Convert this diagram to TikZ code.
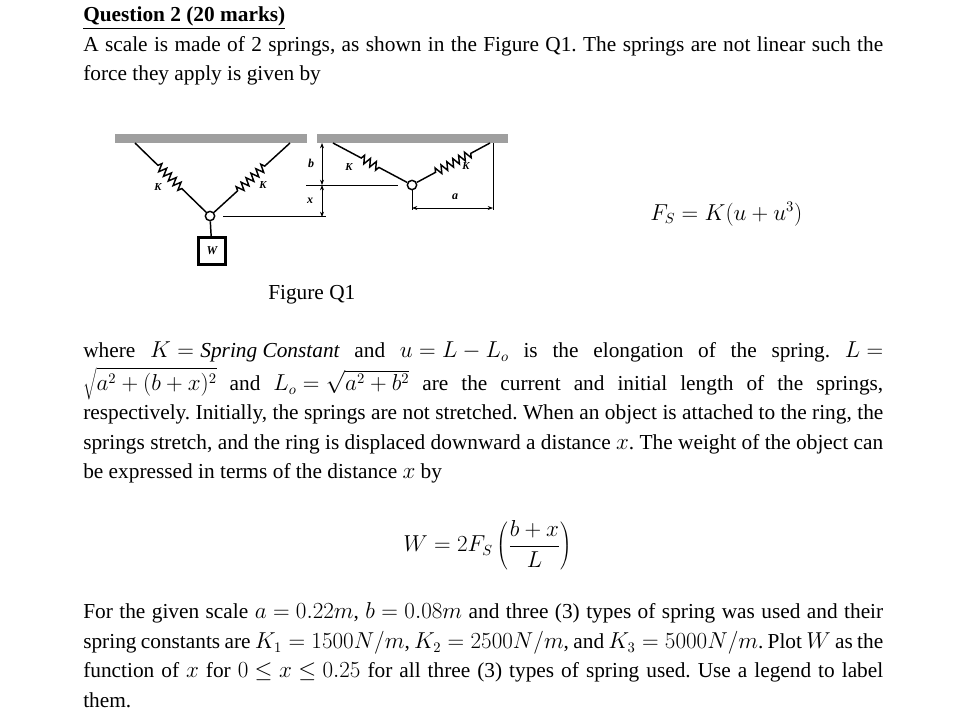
\documentclass[tikz,border=0pt]{standalone}
\usepackage{fontspec}
\setmainfont{Liberation Serif}
\usetikzlibrary{decorations.pathmorphing,arrows.meta}
\tikzset{
 txt/.style={anchor=west,inner sep=0pt,font=\fontsize{16}{18}\selectfont},
 bar/.style={fill=gray!75,draw=none},
 spring/.style={line width=1.1pt,decorate,decoration={zigzag,segment length=5pt,amplitude=3pt,pre length=#1,post length=#1}},
 klab/.style={font=\bfseries\itshape\fontsize{8}{9}\selectfont,inner sep=0pt},
 dim/.style={line width=0.5pt},
 dimarr/.style={line width=0.5pt,{Stealth[length=4pt]}-{Stealth[length=4pt]}}
}
\newcommand{\jl}[1]{\makebox[600pt][s]{#1}}
\frenchspacing
\thickmuskip=5mu \medmuskip=4mu \thinmuskip=3mu
\begin{document}
\begin{tikzpicture}[x=0.75pt,y=-0.75pt]
\useasboundingbox (0,0) rectangle (975,719);
% text
\node[txt,font=\bfseries\fontsize{16}{18}\selectfont] (t0) at (83,18) {\underline{Question 2 (20 marks)}};
\node[txt] (t1) at (83,46) {\jl{A scale is made of 2 springs, as shown in the Figure Q1. The springs are not linear such the}};
\node[txt] (t2) at (83,75) {force they apply is given by};
\node[txt] (f1) at (650,214) {$F_S = K(u+u^3)$};
\node[txt] (cap) at (268,295) {Figure Q1};
\node[txt] (t3) at (83,352) {\jl{where $K = \mathit{Spring\ Constant}$ and $u = L - L_o$ is the elongation of the spring. $L =$}};
\node[txt] (t4) at (83,384) {\jl{$\sqrt{a^2+(b+x)^2}$ and $L_o = \sqrt{a^2+b^2}$ are the current and initial length of the springs,}};
\node[txt] (t5) at (83,414) {\jl{respectively. Initially, the springs are not stretched. When an object is attached to the ring, the}};
\node[txt] (t6) at (83,444) {\jl{springs stretch, and the ring is displaced downward a distance $x$. The weight of the object can}};
\node[txt] (t7) at (83,473) {be expressed in terms of the distance $x$ by};
\node[txt] (f2) at (403,545) {$\displaystyle W = 2F_S\left(\frac{b+x}{L}\right)$};
\node[txt] (t8) at (83,613) {\jl{For the given scale $a = 0.22m$, $b = 0.08m$ and three (3) types of spring was used and their}};
\node[txt] (t9) at (83,643) {\jl{spring constants are $K_1 = 1500N/m$, $K_2 = 2500N/m$, and $K_3 = 5000N/m$. Plot $W$ as the}};
\node[txt] (t10) at (83,672) {\jl{function of $x$ for $0 \le x \le 0.25$ for all three (3) types of spring used. Use a legend to label}};
\node[txt] (t11) at (83,700) {them.};
% figure
\fill[bar] (115,134) rectangle (307,143);
\fill[bar] (317,134) rectangle (508,143);
\coordinate (la) at (135,143); \coordinate (lb) at (290,143);
\coordinate (ra) at (333,143); \coordinate (rb) at (490,143);
\node[circle,draw,line width=1.1pt,minimum size=7pt,inner sep=0pt] (lr) at (210,216) {};
\node[circle,draw,line width=1.1pt,minimum size=7pt,inner sep=0pt] (rr) at (412,185) {};
\draw[spring=24pt] (la) -- (lr);
\draw[spring=24pt] (lr) -- (lb);
\draw[spring=24pt] (ra) -- (rr);
\draw[spring=16pt] (rr) -- (rb);
\node[draw,line width=1.8pt,minimum size=20pt,inner sep=0pt,font=\bfseries\itshape\fontsize{9}{10}\selectfont] (w) at (212,251) {W};
\draw[line width=1.1pt] (lr) -- (w);
\node[klab] at (158,187) {K};
\node[klab] at (263,185) {K};
\node[klab] at (349,167) {K};
\node[klab] at (466,166) {K};
% dimensions
\coordinate (d0) at (322,143); \coordinate (d1) at (322,185); \coordinate (d2) at (322,217);
\draw[dimarr] (d0) -- (d1);
\draw[dimarr] (d1) -- (d2);
\draw[dim] (306,185) -- (398,185);
\draw[dim] (223,216) -- (326,216);
\node[klab,font=\bfseries\itshape\fontsize{9}{10}\selectfont] at (311,163) {b};
\node[klab,font=\bfseries\itshape\fontsize{9}{10}\selectfont] at (310,201) {x};
\coordinate (a0) at (412,208); \coordinate (a1) at (493,208);
\draw[dim] (rr) -- (412,210);
\draw[dim] (493,143) -- (493,210);
\draw[dimarr] (a0) -- (a1);
\node[klab,font=\bfseries\itshape\fontsize{9}{10}\selectfont] at (455,197) {a};
\end{tikzpicture}
\end{document}
